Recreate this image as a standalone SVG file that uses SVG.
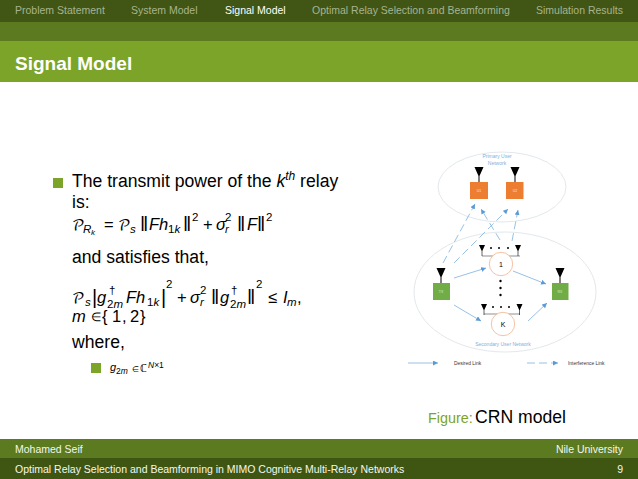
<svg xmlns="http://www.w3.org/2000/svg" width="638" height="479" viewBox="0 0 638 479">
<style>
text{font-family:"Liberation Sans",Arial,sans-serif;fill:#000}
.nav{font-size:10.5px;fill:#a7b38f}
.foot{font-size:10.5px;fill:#f4f6ee}
.b{font-size:17.6px}
.m{font-size:16.5px}
.i{font-style:italic}
.s{font-size:11.5px}
.p{font-size:15px;font-family:"DejaVu Math TeX Gyre","DejaVu Sans",sans-serif}
.n{font-size:20px}
.ell{fill:none;stroke:#e3e8ec;stroke-width:1}
.fb{fill:none;stroke:#444;stroke-width:.6}
.dot{fill:#000}
.d{fill:none;stroke:#7fb0dc;stroke-width:.8;marker-end:url(#a)}
.x{fill:none;stroke:#7fb0dc;stroke-width:.8;stroke-dasharray:8 4;marker-end:url(#a)}
.cap{font-size:5px;fill:#7fb0dc;text-anchor:middle}
.leg{font-size:4.9px;fill:#333}
.nl{font-size:3.5px;fill:#fbe3d3;text-anchor:middle}
.rel{fill:#fff;stroke:#f0b48f;stroke-width:.8}
</style>
<defs>
<marker id="a" markerWidth="6" markerHeight="6" refX="5" refY="2.5" orient="auto" markerUnits="userSpaceOnUse"><path d="M0 0L5 2.5L0 5z" fill="#5b9bd5"/></marker>
<path id="ant" d="M-4.5 0H4.5L0.5 9V15H-0.5V9z"/>
<path id="ants" d="M-3 0H3L0.3 6V11H-0.3V6z"/>
</defs>
<rect width="638" height="479" fill="#fff"/>
<rect width="638" height="22" fill="#415614"/>
<rect y="22" width="638" height="19" fill="#5c7a1f"/>
<rect y="41" width="638" height="41" fill="#7ba428"/>
<text class="nav" x="15" y="14">Problem Statement</text>
<text class="nav" x="131" y="14">System Model</text>
<text class="nav" x="225" y="14" style="fill:#fff">Signal Model</text>
<text class="nav" x="312" y="14">Optimal Relay Selection and Beamforming</text>
<text class="nav" x="536" y="14">Simulation Results</text>
<text x="15" y="70" style="font-size:19px;font-weight:bold;fill:#fff">Signal Model</text>

<rect x="53" y="178" width="10" height="10" fill="#7ba428"/>
<text class="b" x="72" y="187">The transmit power of the <tspan class="i">k</tspan><tspan class="i" font-size="12" dy="-7">th</tspan><tspan dy="7"> relay</tspan></text>
<text class="b" x="72" y="208">is:</text>
<g id="eq1">
<text class="p" x="72" y="230">𝒫</text><text class="s i" x="83" y="233">R</text><text class="i" font-size="8" x="91" y="235">k</text>
<text class="m" x="104" y="230">=</text>
<text class="p" x="118" y="230">𝒫</text><text class="s i" x="130" y="233">s</text>
<text class="n" x="140" y="231">‖</text><text class="m i" x="149" y="230">Fh</text><text class="s" x="168" y="233">1<tspan class="i">k</tspan></text>
<text class="n" x="183" y="231">‖</text><text class="s" x="192" y="221">2</text>
<text class="m" x="203" y="230">+</text>
<text class="m i" x="216" y="230">σ</text><text class="s i" x="225" y="233">r</text><text class="s" x="225" y="221">2</text>
<text class="n" x="237" y="231">‖</text><text class="m i" x="247" y="230">F</text><text class="n" x="257" y="231">‖</text><text class="s" x="266" y="221">2</text>
</g>
<text class="b" x="72" y="263">and satisfies that,</text>
<g id="eq2">
<text class="p" x="72" y="303">𝒫</text><text class="s i" x="85" y="306">s</text>
<text class="n" x="92" y="304">|</text><text class="m i" x="97" y="303">g</text><text class="s" x="109" y="294">†</text><text class="s" x="107" y="308">2<tspan class="i">m</tspan></text>
<text class="m i" x="126" y="303">Fh</text><text class="s" x="147" y="306">1<tspan class="i">k</tspan></text>
<text class="n" x="161" y="304">|</text><text class="s" x="166" y="288">2</text>
<text class="m" x="177" y="303">+</text>
<text class="m i" x="190" y="303">σ</text><text class="s i" x="200" y="306">r</text><text class="s" x="200" y="294">2</text>
<text class="n" x="211" y="304">‖</text><text class="m i" x="220" y="303">g</text><text class="s" x="231" y="294">†</text><text class="s" x="230" y="308">2<tspan class="i">m</tspan></text>
<text class="n" x="247" y="304">‖</text><text class="s" x="256" y="288">2</text>
<text class="m" x="268" y="303">≤</text><text class="m i" x="283" y="303">I</text><text class="s i" x="287" y="306">m</text><text class="m" x="297" y="303">,</text>
</g>
<g id="eq3">
<text class="m i" x="72" y="322">m</text><text class="s" x="91" y="321">∈</text><text class="m" x="102" y="322">{</text><text class="m" x="112" y="322">1</text><text class="m" x="122" y="322">,</text><text class="m" x="130" y="322">2</text><text class="m" x="140" y="322">}</text>
</g>
<text class="b" x="72" y="348">where,</text>
<rect x="91" y="363" width="10" height="10" fill="#7ba428"/>
<g id="eq4">
<text x="110" y="371" font-size="11" class="i">g</text><text x="116" y="374" font-size="8.500">2<tspan class="i">m</tspan></text><text x="132" y="372" font-size="8">∈</text><text x="140" y="372" font-size="11">ℂ</text><text x="148" y="368" font-size="8.500" class="i">N<tspan style="font-style:normal">×1</tspan></text>
</g>

<g id="primary-network">
<ellipse class="ell" cx="502" cy="187" rx="64" ry="35"/>
<text class="cap" x="497" y="158">Primary User</text>
<text class="cap" x="497" y="165">Network</text>
</g>
<g id="secondary-network">
<ellipse class="ell" cx="505" cy="292" rx="91" ry="60"/>
<text class="cap" x="503" y="346">Secondary User Network</text>
</g>
<g id="connectors">
<path class="x" d="M443 263L475 204"/>
<path class="x" d="M454 263L508 209"/>
<path class="x" d="M500 240L481 209"/>
<path class="x" d="M512 241L518 210"/>
<path class="d" d="M454 278L486 268"/>
<path class="d" d="M513 271L546 284"/>
<path class="d" d="M454 305L481 321"/>
<path class="d" d="M528 321L547 303"/>
<path class="d" d="M408 363H438"/>
<path class="x" d="M527 363H558"/>
</g>
<g id="pu1"><rect x="470" y="182" width="18" height="17" fill="#ed7d31"/><text class="nl" x="479" y="192">U1</text><use href="#ant" x="479" y="167"/></g>
<g id="pu2"><rect x="506" y="182" width="17.500" height="17" fill="#ed7d31"/><text class="nl" x="515" y="192">U2</text><use href="#ant" x="515" y="167"/></g>
<g id="tx"><rect x="433" y="283" width="17" height="17" fill="#70ad47"/><text class="nl" x="441" y="293" style="fill:#dbe9cf">TX</text><use href="#ant" x="441" y="268"/></g>
<g id="rx"><rect x="552" y="283" width="16.500" height="17" fill="#70ad47"/><text class="nl" x="560" y="293" style="fill:#dbe9cf">RX</text><use href="#ant" x="560" y="268"/></g>
<g id="relay1">
<path class="fb" d="M482 256H520"/>
<use href="#ants" x="482" y="245"/>
<use href="#ants" x="518" y="245"/>
<circle class="dot" cx="491" cy="248" r="1"/><circle class="dot" cx="499" cy="248" r="1"/><circle class="dot" cx="508" cy="248" r="1"/>
<circle class="rel" cx="501" cy="264" r="11.700"/><text x="501" y="267" font-size="7" text-anchor="middle">1</text>
</g>
<g id="relay-dots"><circle class="dot" cx="500.500" cy="281" r="1.200"/><circle class="dot" cx="500.500" cy="288" r="1.200"/><circle class="dot" cx="500.500" cy="295" r="1.200"/></g>
<g id="relayK">
<path class="fb" d="M484 314H520"/>
<use href="#ants" x="484" y="304"/>
<use href="#ants" x="519.500" y="304"/>
<circle class="dot" cx="493" cy="307" r="1"/><circle class="dot" cx="501" cy="307" r="1"/><circle class="dot" cx="509" cy="307" r="1"/>
<circle class="rel" cx="503" cy="324" r="11.700"/><text x="503" y="327" font-size="7" text-anchor="middle">K</text>
</g>
<g id="legend">
<text class="leg" x="454" y="365">Desired Link</text>
<text class="leg" x="568" y="365">Interference Link</text>
</g>
<text x="428" y="423" font-size="14.400" style="fill:#7ba428">Figure:</text>
<text x="475" y="423" font-size="17.600">CRN model</text>

<rect y="439" width="638" height="19" fill="#5c7a1f"/>
<rect y="458" width="638" height="21" fill="#3f5613"/>
<text class="foot" x="15" y="453">Mohamed Seif</text>
<text class="foot" x="623" y="453" text-anchor="end">Nile University</text>
<text class="foot" x="15" y="473">Optimal Relay Selection and Beamforming in MIMO Cognitive Multi-Relay Networks</text>
<text class="foot" x="623" y="473" text-anchor="end">9</text>
</svg>
